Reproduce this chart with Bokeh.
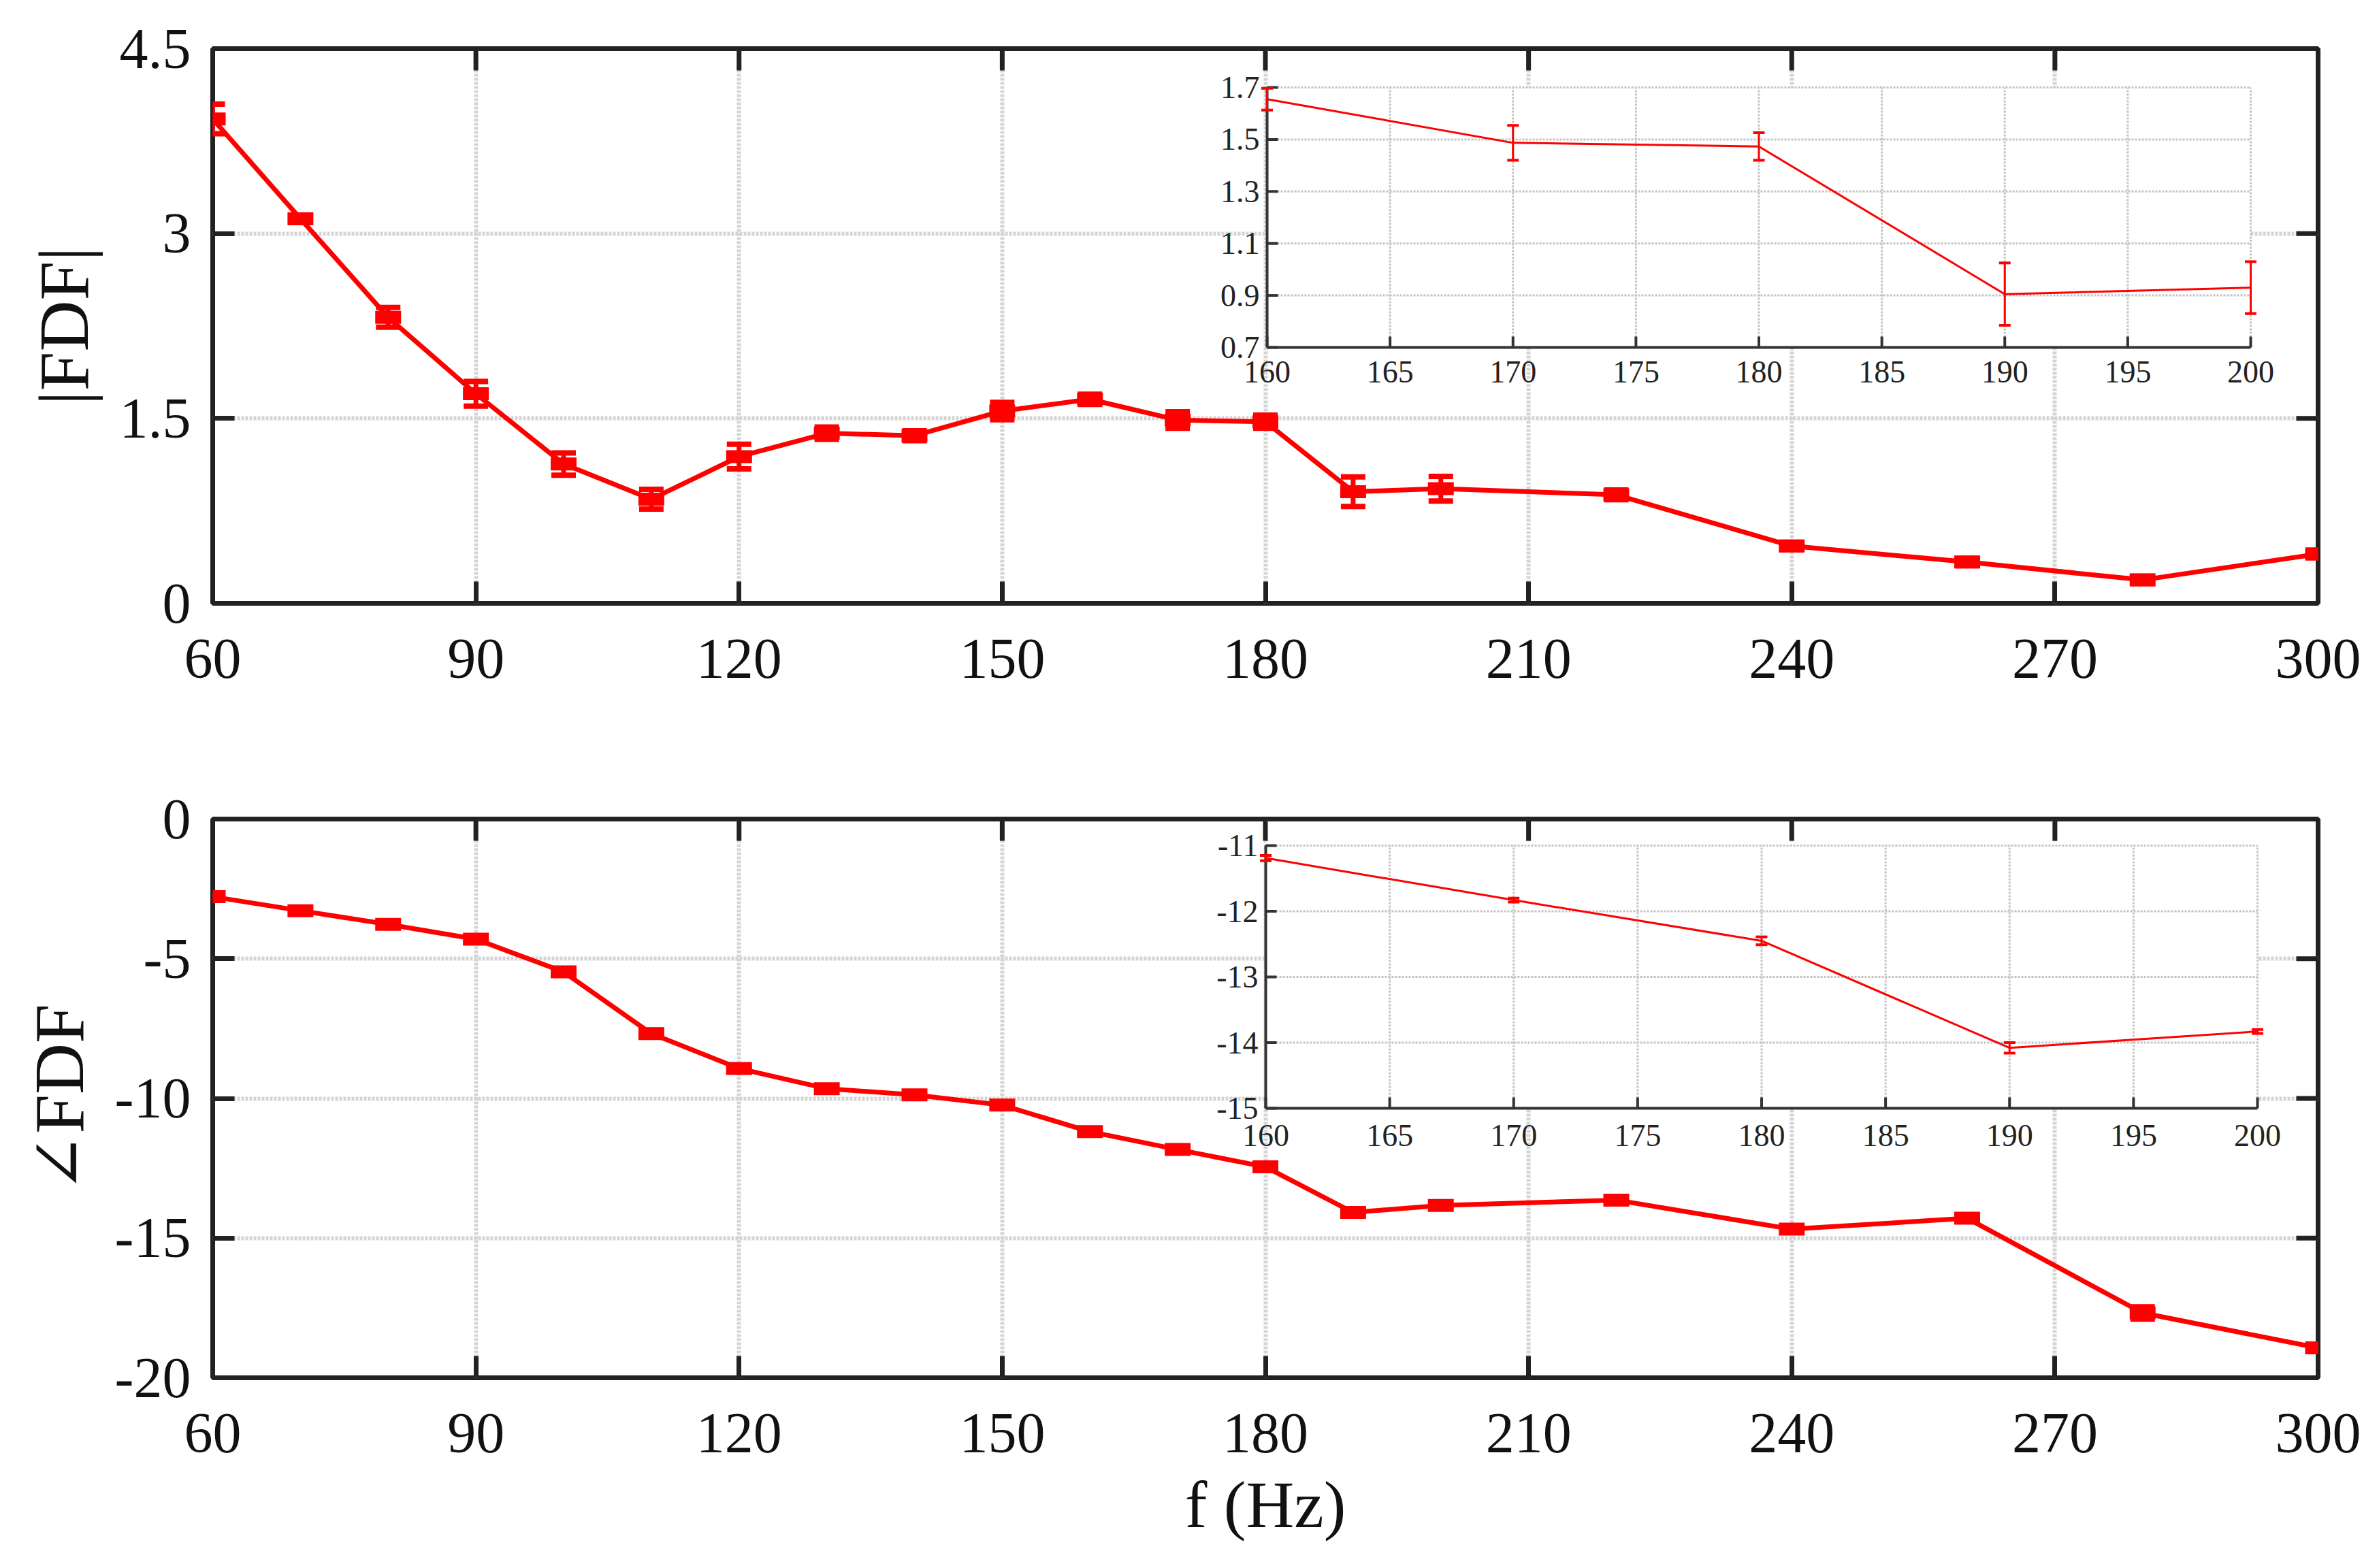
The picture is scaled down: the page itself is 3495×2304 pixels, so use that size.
import numpy as np
from bokeh.plotting import figure
from bokeh.layouts import column
from bokeh.models import Range1d, FixedTicker, CustomJSTickFormatter
from bokeh.core.properties import value
from bokeh.embed import file_html
from bokeh.resources import INLINE

# ---------------- data ----------------
freq = [60, 70, 80, 90, 100, 110, 120, 130, 140, 150, 160, 170, 180, 190, 200, 220, 240, 260, 280, 300]
mag = [3.93, 3.12, 2.32, 1.70, 1.13, 0.845, 1.19, 1.38, 1.36, 1.56, 1.655, 1.487, 1.473, 0.905, 0.93,
       0.88, 0.465, 0.335, 0.19, 0.40]
mag_err = [0.12, 0.03, 0.08, 0.10, 0.09, 0.08, 0.10, 0.05, 0.04, 0.07, 0.042, 0.067, 0.053, 0.12, 0.10,
           0.04, 0.03, 0.03, 0.03, 0.03]
phase = [-2.78, -3.28, -3.77, -4.30, -5.47, -7.68, -8.93, -9.65, -9.87, -10.24, -11.19, -11.83, -12.45,
         -14.08, -13.83, -13.64, -14.68, -14.29, -17.68, -18.93]
phase_err = [0.05, 0.04, 0.06, 0.05, 0.06, 0.12, 0.08, 0.05, 0.05, 0.05, 0.04, 0.03, 0.06, 0.08, 0.03,
             0.06, 0.12, 0.06, 0.22, 0.06]

x_ticks = [60, 90, 120, 150, 180, 210, 240, 270, 300]
mag_ticks = [0, 1.5, 3, 4.5]
phase_ticks = [-20, -15, -10, -5, 0]

inset_x_ticks = [160, 165, 170, 175, 180, 185, 190, 195, 200]
inset_x_labels = ["160", "165", "170", "175", "180", "185", "190", "195", "200"]
inset_mag_ticks = [0.7, 0.9, 1.1, 1.3, 1.5, 1.7]
inset_mag_labels = ["0.7", "0.9", "1.1", "1.3", "1.5", "1.7"]
inset_phase_ticks = [-15, -14, -13, -12, -11]
inset_phase_labels = ["-15", "-14", "-13", "-12", "-11"]

RED = "#ff0000"
INK = "#222222"
FONT = "Liberation Serif"
FRAME_W = 3093
XMIN, XMAX = 60, 300
TICK_LEN = 32
BORDER_L, BORDER_R = 312, 75


def make_main(y0, y1, yticks, frame_h, top_b, bot_b, ylabel, xlabel=None):
    p = figure(frame_width=FRAME_W, frame_height=frame_h,
               x_range=Range1d(XMIN, XMAX), y_range=Range1d(y0, y1),
               output_backend="svg", toolbar_location=None,
               min_border_left=BORDER_L, min_border_right=BORDER_R,
               min_border_top=top_b, min_border_bottom=bot_b,
               background_fill_color="white", border_fill_color="white")
    p.outline_line_color = INK
    p.outline_line_width = 7
    xax = p.below[0]
    yax = p.left[0]
    xax.ticker = FixedTicker(ticks=x_ticks)
    yax.ticker = FixedTicker(ticks=yticks)
    xax.formatter = CustomJSTickFormatter(code="return String(tick)")
    yax.formatter = CustomJSTickFormatter(code="return String(tick)")
    for ax in (xax, yax):
        ax.axis_line_color = None
        ax.major_tick_line_color = INK
        ax.major_tick_line_width = 7
        ax.major_tick_in = TICK_LEN
        ax.major_tick_out = 0
        ax.minor_tick_line_color = None
        ax.major_label_text_font = FONT
        ax.major_label_text_font_size = "84px"
        ax.major_label_text_color = "#111111"
    xax.major_label_standoff = 53
    yax.major_label_standoff = 32
    yax.axis_label = ylabel
    yax.axis_label_text_font = "Liberation Serif, DejaVu Serif"
    yax.axis_label_text_font_size = "104px"
    yax.axis_label_text_font_style = "normal"
    yax.axis_label_text_color = "#111111"
    yax.axis_label_standoff = 22
    if xlabel is not None:
        xax.axis_label = xlabel
        xax.axis_label_text_font = FONT
        xax.axis_label_text_font_size = "98px"
        xax.axis_label_text_font_style = "normal"
        xax.axis_label_text_color = "#111111"
        xax.axis_label_standoff = 20
    p.xgrid.ticker = FixedTicker(ticks=x_ticks)
    p.ygrid.ticker = FixedTicker(ticks=yticks)
    for g in (p.xgrid[0], p.ygrid[0]):
        g.grid_line_color = "#d4d4d4"
        g.grid_line_width = 6
        g.grid_line_dash = "4 2"
    # inward ticks on the top and right edges of the frame
    sy = frame_h / (y1 - y0)
    sx = FRAME_W / (XMAX - XMIN)
    n = len(x_ticks)
    p.segment(x0=x_ticks, y0=[y1] * n, x1=x_ticks, y1=[y1 - TICK_LEN / sy] * n,
              line_color=INK, line_width=7)
    m = len(yticks)
    p.segment(x0=[XMAX] * m, y0=yticks, x1=[XMAX - TICK_LEN / sx] * m, y1=yticks,
              line_color=INK, line_width=7)
    return p


def add_inset(p, frame_h, box, xlim, ylim, xs, ys, es, xt, xl, yt, yl, top_pad, xlab_off):
    left, right, bottom, top = box  # pixels, relative to the frame's left / bottom
    x0, x1 = xlim
    y0, y1 = ylim
    sx = (right - left) / (x1 - x0)
    sy = (top - bottom) / (y1 - y0)
    xs0 = x0 - left / sx
    ys0 = y0 - bottom / sy
    p.extra_x_ranges = {"ix": Range1d(xs0, xs0 + FRAME_W / sx)}
    p.extra_y_ranges = {"iy": Range1d(ys0, ys0 + frame_h / sy)}
    kw = dict(x_range_name="ix", y_range_name="iy")
    # white background
    p.quad(left=[x0], right=[x1], bottom=[y0], top=[y1 + top_pad / sy],
           fill_color="white", line_color=None, **kw)
    # grid
    p.segment(x0=xt, y0=[y0] * len(xt), x1=xt, y1=[y1] * len(xt),
              line_color="#c4c4c4", line_width=3, line_dash="3 2", **kw)
    p.segment(x0=[x0] * len(yt), y0=yt, x1=[x1] * len(yt), y1=yt,
              line_color="#c4c4c4", line_width=3, line_dash="3 2", **kw)
    # axis lines
    p.segment(x0=[x0, x0], y0=[y0, y0], x1=[x0, x1], y1=[y1, y0],
              line_color="#333333", line_width=4, **kw)
    # inward ticks
    tl = 16
    p.segment(x0=xt, y0=[y0] * len(xt), x1=xt, y1=[y0 + tl / sy] * len(xt),
              line_color="#333333", line_width=4, **kw)
    p.segment(x0=[x0] * len(yt), y0=yt, x1=[x0 + tl / sx] * len(yt), y1=yt,
              line_color="#333333", line_width=4, **kw)
    # tick labels
    p.text(x=xt, y=[y0] * len(xt), text=xl, y_offset=xlab_off, text_align="center",
           text_baseline="top", text_font=value(FONT), text_font_size="46px",
           text_color="#222222", **kw)
    p.text(x=[x0] * len(yt), y=yt, text=yl, x_offset=-11, text_align="right",
           text_baseline="middle", text_font=value(FONT), text_font_size="46px",
           text_color="#222222", **kw)
    # data
    lo = [y - e for y, e in zip(ys, es)]
    hi = [y + e for y, e in zip(ys, es)]
    p.line(xs, ys, line_color=RED, line_width=3, **kw)
    p.segment(x0=xs, y0=lo, x1=xs, y1=hi, line_color=RED, line_width=3, **kw)
    p.rect(x=xs + xs, y=lo + hi, width=17, height=4, width_units="screen",
           height_units="screen", fill_color=RED, line_color=None, **kw)


def add_main_series(p, ys, es):
    lo = [y - e for y, e in zip(ys, es)]
    hi = [y + e for y, e in zip(ys, es)]
    p.line(freq, ys, line_color=RED, line_width=7)
    p.segment(x0=freq, y0=lo, x1=freq, y1=hi, line_color=RED, line_width=7)
    p.rect(x=freq + freq, y=lo + hi, width=36, height=8, width_units="screen",
           height_units="screen", fill_color=RED, line_color=None)
    p.rect(x=freq, y=ys, width=38, height=19, width_units="screen",
           height_units="screen", fill_color=RED, line_color=None)


sel = [i for i, f in enumerate(freq) if 160 <= f <= 200]
ins_f = [freq[i] for i in sel]

# ---------------- top: magnitude ----------------
p1 = make_main(0, 4.5, mag_ticks, 815, 71, 200, "|FDF|")
add_inset(p1, 815, (1549, 2994, 376, 758), (160, 200), (0.7, 1.7),
          ins_f, [mag[i] for i in sel], [mag_err[i] for i in sel],
          inset_x_ticks, inset_x_labels, inset_mag_ticks, inset_mag_labels, 0, 20)
add_main_series(p1, mag, mag_err)

# ---------------- bottom: phase ----------------
p2 = make_main(-20, 0, phase_ticks, 821, 117, 10, "\u2220FDF", xlabel="f (Hz)")
add_inset(p2, 821, (1547, 3004, 396, 782), (160, 200), (-15, -11),
          ins_f, [phase[i] for i in sel], [phase_err[i] for i in sel],
          inset_x_ticks, inset_x_labels, inset_phase_ticks, inset_phase_labels, 6, 24)
add_main_series(p2, phase, phase_err)

layout = column(p1, p2, spacing=0)
open("out.html", "w").write(file_html(layout, INLINE))
